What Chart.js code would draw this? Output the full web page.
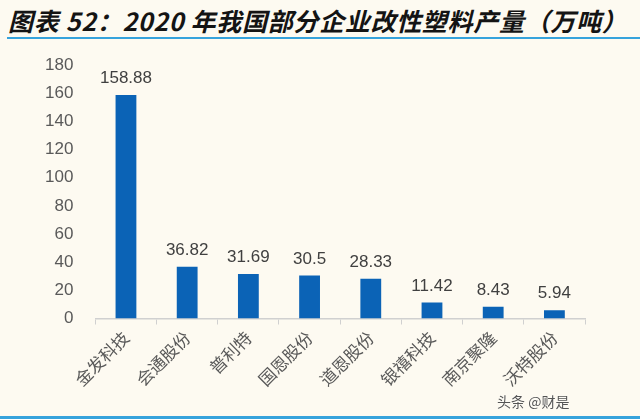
<!DOCTYPE html>
<html>
<head>
<meta charset="utf-8">
<script src="https://cdn.jsdelivr.net/npm/chart.js@4"></script>
<style>
  html, body { margin: 0; padding: 0; }
  body { width: 640px; height: 419px; background: #fdfaf1; position: relative; overflow: hidden;
         font-family: "Noto Sans CJK SC", "Liberation Sans", sans-serif; }
  .title { position: absolute; left: 8px; top: 2px; font-size: 25px; font-weight: bold; font-style: italic;
           color: #141414; white-space: nowrap; letter-spacing: 0.7px; }
  .rule { position: absolute; left: 7px; right: 0; top: 37px; height: 2px; background: #36a3dc; }
  .rule-bottom { position: absolute; left: 0; right: 0; top: 416px; height: 3px; background: #36a3dc; }
  .wrap { position: absolute; left: 0; top: 41px; width: 605px; height: 352px; }
  .mark { position: absolute; left: 497px; top: 391px; font-size: 14px; color: #555;
          text-shadow: 0 0 2px #fff; }
</style>
</head>
<body>
<div class="title">图表 52：2020 年我国部分企业改性塑料产量（万吨）</div>
<div class="rule"></div>
<div class="wrap"><canvas id="plasticChart"></canvas></div>
<div class="mark">头条 @财是</div>
<div class="rule-bottom"></div>
<script>
const companies = ['金发科技', '会通股份', '普利特', '国恩股份', '道恩股份', '银禧科技', '南京聚隆', '沃特股份'];
const output = [158.88, 36.82, 31.69, 30.5, 28.33, 11.42, 8.43, 5.94];
const yTicks = [0, 20, 40, 60, 80, 100, 120, 140, 160, 180];

document.addEventListener('DOMContentLoaded', function() {
    const valueLabels = {
        id: 'valueLabels',
        afterDatasetsDraw(chart) {
            const ctx = chart.ctx;
            const meta = chart.getDatasetMeta(0);
            ctx.save();
            ctx.font = '17px "Liberation Sans", Arial, sans-serif';
            ctx.fillStyle = '#404040';
            ctx.textAlign = 'center';
            ctx.textBaseline = 'bottom';
            meta.data.forEach((bar, i) => {
                ctx.fillText(String(output[i]), bar.x, bar.y - 8);
            });
            ctx.restore();
        }
    };

    const ctx = document.getElementById('plasticChart').getContext('2d');
    new Chart(ctx, {
        type: 'bar',
        data: {
            labels: companies,
            datasets: [{
                data: output,
                backgroundColor: '#0b63b6',
                barPercentage: 0.34,
                categoryPercentage: 1
            }]
        },
        options: {
            responsive: true,
            maintainAspectRatio: false,
            animation: false,
            layout: { padding: { top: 10, right: 20, left: 31, bottom: 0 } },
            plugins: {
                legend: { display: false },
                tooltip: { enabled: false }
            },
            scales: {
                x: {
                    offset: true,
                    grid: {
                        offset: true,
                        drawOnChartArea: false,
                        drawTicks: true,
                        tickLength: 6,
                        color: '#d0d0d0'
                    },
                    border: { display: true, color: '#d0d0d0', width: 1.5 },
                    ticks: {
                        color: '#595959',
                        font: { family: '"Noto Sans CJK SC", sans-serif', size: 17 },
                        minRotation: 45,
                        maxRotation: 45,
                        padding: 3
                    }
                },
                y: {
                    min: 0,
                    max: 180,
                    afterBuildTicks(scale) {
                        scale.ticks = yTicks.map(v => ({ value: v }));
                    },
                    grid: { display: false },
                    border: { display: false },
                    ticks: {
                        color: '#595959',
                        font: { family: '"Liberation Sans", Arial, sans-serif', size: 17 },
                        padding: 14
                    }
                }
            }
        },
        plugins: [valueLabels]
    });
});
</script>
</body>
</html>
